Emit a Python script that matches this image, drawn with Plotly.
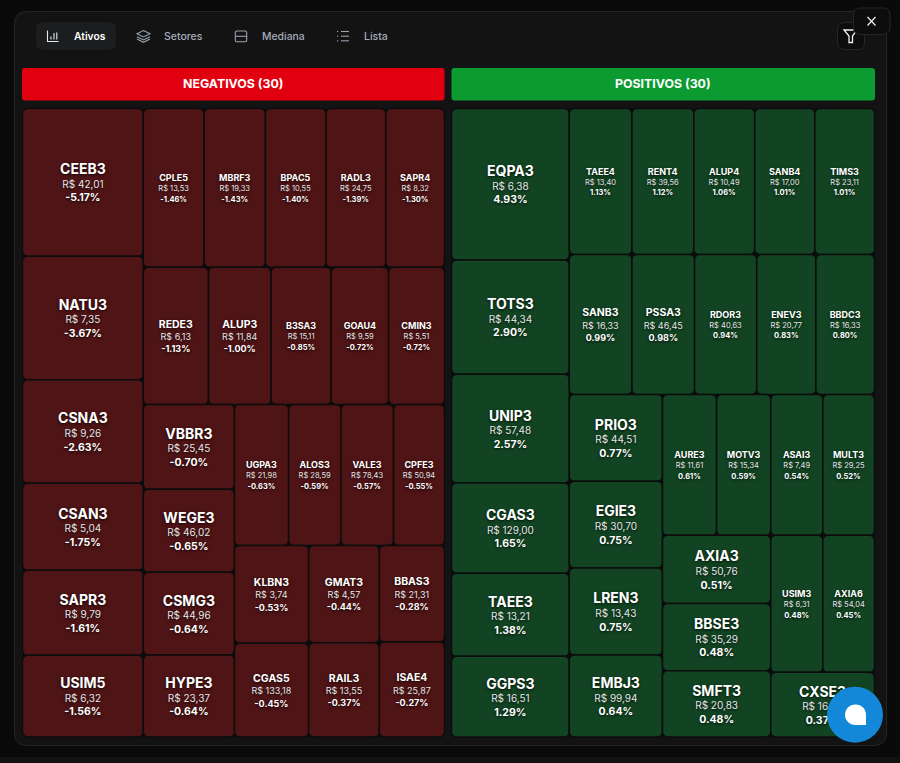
import plotly.graph_objects as go

W, H = 900, 763
FONT = "Inter, Liberation Sans, sans-serif"

# Losers
neg_tickers = ["CEEB3", "NATU3", "CSNA3", "CSAN3", "SAPR3", "USIM5",
               "CPLE5", "MBRF3", "BPAC5", "RADL3", "SAPR4",
               "REDE3", "ALUP3", "B3SA3", "GOAU4", "CMIN3",
               "VBBR3", "WEGE3", "CSMG3", "HYPE3",
               "UGPA3", "ALOS3", "VALE3", "CPFE3",
               "KLBN3", "CGAS5", "GMAT3", "RAIL3", "BBAS3", "ISAE4"]
neg_prices = [42.01, 7.35, 9.26, 5.04, 9.79, 6.32,
              13.53, 19.33, 10.55, 24.75, 8.32,
              6.13, 11.84, 15.11, 9.59, 5.51,
              25.45, 46.02, 44.96, 23.37,
              21.98, 28.59, 78.43, 50.94,
              3.74, 133.18, 4.57, 13.55, 21.31, 25.87]
neg_changes = [-5.17, -3.67, -2.63, -1.75, -1.61, -1.56,
               -1.46, -1.43, -1.40, -1.39, -1.30,
               -1.13, -1.00, -0.85, -0.72, -0.72,
               -0.70, -0.65, -0.64, -0.64,
               -0.63, -0.59, -0.57, -0.55,
               -0.53, -0.45, -0.44, -0.37, -0.28, -0.27]
neg_weights = [177.6, 148.6, 124.5, 104.8, 102.4, 98.2,
               96.4, 96.7, 95.7, 94.8, 92.7,
               89.1, 85.6, 82.2, 78.4, 76.4,
               77.1, 75.3, 75.3, 74.4,
               76.0, 73.4, 73.9, 71.5,
               72.4, 69.2, 68.6, 66.3, 62.7, 61.6]

# Gainers
pos_tickers = ["EQPA3", "TOTS3", "UNIP3", "CGAS3", "TAEE3", "GGPS3",
               "TAEE4", "RENT4", "ALUP4", "SANB4", "TIMS3",
               "SANB3", "PSSA3", "RDOR3", "ENEV3", "BBDC3",
               "PRIO3", "EGIE3", "LREN3", "EMBJ3",
               "AURE3", "MOTV3", "ASAI3", "MULT3",
               "AXIA3", "BBSE3", "SMFT3", "USIM3", "AXIA6", "CXSE3"]
pos_prices = [6.38, 44.34, 57.48, 129.00, 13.21, 16.51,
              13.40, 39.56, 10.49, 17.00, 23.11,
              16.33, 46.45, 40.63, 20.77, 16.33,
              44.51, 30.70, 13.43, 99.94,
              11.61, 15.34, 7.49, 29.25,
              50.76, 35.29, 20.83, 6.31, 54.04, 16.90]
pos_changes = [4.93, 2.90, 2.57, 1.65, 1.38, 1.29,
               1.13, 1.12, 1.06, 1.01, 1.01,
               0.99, 0.98, 0.94, 0.83, 0.80,
               0.77, 0.75, 0.75, 0.64,
               0.61, 0.59, 0.54, 0.52,
               0.51, 0.48, 0.48, 0.48, 0.45, 0.37]
pos_weights = [177.7, 134.1, 127.7, 105.8, 97.5, 94.6,
               91.1, 90.1, 88.5, 87.5, 86.8,
               87.4, 87.4, 86.7, 82.5, 81.8,
               80.5, 80.4, 80.9, 76.1,
               75.9, 75.9, 73.1, 72.4,
               73.5, 72.4, 71.5, 71.1, 70.5, 66.8]

# Nesting of the tiles; each level alternates between columns and rows.
neg_tree = [neg_tickers[0:6],
            [neg_tickers[6:11], neg_tickers[11:16],
             [neg_tickers[16:20],
              [neg_tickers[20:24],
               [neg_tickers[24:26], neg_tickers[26:28], neg_tickers[28:30]]]]]]
pos_tree = [pos_tickers[0:6],
            [pos_tickers[6:11], pos_tickers[11:16],
             [pos_tickers[16:20],
              [pos_tickers[20:24],
               [pos_tickers[24:27], [pos_tickers[27:29], [pos_tickers[29]]]]]]]]

# Type sizes by tile group: ticker, price, change
TIER_SIZES = {"large": (14, 10, 10.5), "medium": (10.5, 9, 9), "small": (9, 7.5, 7.5)}
LARGE = set(neg_tickers[:6] + neg_tickers[16:20] + pos_tickers[:6] + pos_tickers[16:20]
            + pos_tickers[24:27] + ["CXSE3"])
MEDIUM = {"REDE3", "ALUP3", "KLBN3", "GMAT3", "BBAS3", "CGAS5", "RAIL3", "ISAE4",
          "SANB3", "PSSA3"}


def tier(ticker):
    return "large" if ticker in LARGE else "medium" if ticker in MEDIUM else "small"


def tile_label(ticker, price, change):
    t, p, c = TIER_SIZES[tier(ticker)]
    price_txt = f"R$ {price:.2f}".replace(".", ",")
    return (f'<span style="font-size:{t}px"><b>{ticker}</b></span><br>'
            f'<span style="font-size:{p}px;fill:#e6e6e6">{price_txt}</span><br>'
            f'<span style="font-size:{c}px"><b>{change:.2f}%</b></span>')


def treemap(tree, tickers, prices, changes, weights, color, xpix):
    ids, parents, values, texts, colors, lines, sizes = [], [], [], [], [], [], []
    lookup = {t: (p, c, w) for t, p, c, w in zip(tickers, prices, changes, weights)}

    def walk(node, parent, path):
        if isinstance(node, str):
            p, c, w = lookup[node]
            ids.append(node); parents.append(parent); values.append(w)
            texts.append(tile_label(node, p, c)); colors.append(color); lines.append(1.5)
            sizes.append(TIER_SIZES[tier(node)][1] + 0.5)
        else:
            ids.append(path); parents.append(parent); values.append(0)
            texts.append(""); lines.append(0); sizes.append(10)
            colors.append("#0c0c0c" if parent == "" else "rgba(0,0,0,0)")
            for i, child in enumerate(node):
                walk(child, path, f"{path}.{i}")

    walk(tree, "", "root")
    return go.Treemap(
        ids=ids, labels=ids, parents=parents, values=values, text=texts,
        branchvalues="remainder", sort=False, textinfo="text",
        textposition="middle center",
        textfont=dict(family=FONT, color="#ffffff", size=sizes,
                      shadow="0px 1px 3px rgba(0,0,0,0.8)"),
        tiling=dict(packing="slice-dice", pad=0),
        marker=dict(colors=colors, depthfade=False, cornerradius=5,
                    pad=dict(t=0, l=0, r=0, b=0),
                    line=dict(color="#0c0c0c", width=lines)),
        pathbar=dict(visible=False), hoverinfo="skip",
        domain=dict(x=[xpix[0] / W, xpix[1] / W], y=[1 - 737 / H, 1 - 108.5 / H]),
    )


fig = go.Figure([
    treemap(neg_tree, neg_tickers, neg_prices, neg_changes, neg_weights, "#4f1416", (22.5, 444.5)),
    treemap(pos_tree, pos_tickers, pos_prices, pos_changes, pos_weights, "#124423", (451.5, 874.5)),
])


def px(x):
    return x / W


def py(y):
    return 1 - y / H


def path_of(points, close=False):
    d = " ".join(("M" if i == 0 else "L") + f"{px(x):.5f},{py(y):.5f}" for i, (x, y) in enumerate(points))
    return d + (" Z" if close else "")


def rrect(x0, y0, x1, y1, r):
    P = lambda x, y: f"{px(x):.5f},{py(y):.5f}"
    return (f"M{P(x0 + r, y0)} L{P(x1 - r, y0)} Q{P(x1, y0)} {P(x1, y0 + r)} "
            f"L{P(x1, y1 - r)} Q{P(x1, y1)} {P(x1 - r, y1)} L{P(x0 + r, y1)} "
            f"Q{P(x0, y1)} {P(x0, y1 - r)} L{P(x0, y0 + r)} Q{P(x0, y0)} {P(x0 + r, y0)} Z")


shapes = []


def add_box(x0, y0, x1, y1, r, fill, line=None, layer="below"):
    shapes.append(dict(type="path", xref="paper", yref="paper", path=rrect(x0, y0, x1, y1, r),
                       fillcolor=fill, line=dict(color=line or fill, width=1 if line else 0),
                       layer=layer))


def add_stroke(points, color, width=1.1, layer="below", close=False):
    shapes.append(dict(type="path", xref="paper", yref="paper", path=path_of(points, close),
                       line=dict(color=color, width=width), layer=layer))


# Page and modal frame
add_box(-2, 757, 902, 765, 0, "#121212")
add_box(14.5, 11.5, 886.5, 745.5, 13, "#131313", "#262626")
add_box(36, 22, 116, 50, 7, "#1c1d1f")
add_box(22, 68, 444.5, 100.5, 3, "#e0000f")
add_box(451.5, 68, 875, 100.5, 3, "#0b9b30")

# Tab icons
ICON_ON, ICON_OFF = "#e8e8e8", "#98a2b0"
add_stroke([(47.5, 30.5), (47.5, 41.5), (58.5, 41.5)], ICON_ON)
for bx, by in [(51, 36.5), (54, 33), (56.8, 32.5)]:
    add_stroke([(bx, by), (bx, 39.5)], ICON_ON)
add_stroke([(143.5, 30.5), (150, 33.7), (143.5, 37), (137, 33.7)], ICON_OFF, close=True)
add_stroke([(137, 36.7), (143.5, 40), (150, 36.7)], ICON_OFF)
add_stroke([(137, 39), (143.5, 42.3), (150, 39)], ICON_OFF)
shapes.append(dict(type="path", xref="paper", yref="paper", path=rrect(235.3, 31, 246.7, 41.7, 1.5),
                   line=dict(color=ICON_OFF, width=1.1), layer="below"))
add_stroke([(235.3, 36.3), (246.7, 36.3)], ICON_OFF)
for ly in (31.5, 36.2, 40.8):
    add_stroke([(341, ly), (349, ly)], ICON_OFF)
    add_stroke([(337, ly), (338.2, ly)], ICON_OFF)

# Filter and close buttons
add_box(837.5, 22.5, 864.5, 49.5, 7, "#0d0d0d", "#262626", layer="above")
add_stroke([(844, 30), (857, 30), (852.5, 36), (852.5, 42.5), (849, 42.5), (849, 36)],
           "#f0f0f0", 1.3, "above", True)
add_box(853.5, 8, 890, 34.5, 7, "#0d0d0d", "#262626", layer="above")
add_stroke([(867.5, 17), (875.5, 25.5)], "#f0f0f0", 1.2, "above")
add_stroke([(875.5, 17), (867.5, 25.5)], "#f0f0f0", 1.2, "above")

# Chat launcher
shapes.append(dict(type="circle", xref="paper", yref="paper", x0=px(827), x1=px(883),
                   y0=py(742.7), y1=py(686.7), fillcolor="#1488d8", line=dict(width=0), layer="above"))
P = lambda x, y: f"{px(x):.5f},{py(y):.5f}"
shapes.append(dict(type="path", xref="paper", yref="paper", layer="above",
                   path=(f"M{P(855.5, 704.5)} C{P(861.5, 704.5)} {P(866, 709)} {P(866, 715)} "
                         f"L{P(866, 725)} L{P(855.5, 725)} C{P(849.5, 725)} {P(845, 720.5)} {P(845, 715)} "
                         f"C{P(845, 709)} {P(849.5, 704.5)} {P(855.5, 704.5)} Z"),
                   fillcolor="#ffffff", line=dict(width=0)))


def note(x, y, text, size, color, anchor="left", weight=500):
    return dict(x=px(x), y=py(y), xref="paper", yref="paper", text=text, showarrow=False,
                xanchor=anchor, yanchor="middle", align="center",
                font=dict(family=FONT, size=size, color=color, weight=weight))


annotations = [
    note(71.7, 36.3, "Ativos", 10.3, "#ffffff", weight=600),
    note(161.7, 36.3, "Setores", 10.5, "#a3adba"),
    note(259.7, 36.3, "Mediana", 10.4, "#a3adba"),
    note(361.7, 36.3, "Lista", 10.5, "#a3adba"),
    note(233.5, 83.5, "NEGATIVOS (30)", 12.35, "#ffffff", "center", 700),
    note(663.2, 83.5, "POSITIVOS (30)", 12.35, "#ffffff", "center", 700),
]

fig.update_layout(
    width=W, height=H, margin=dict(l=0, r=0, t=0, b=0),
    paper_bgcolor="#0a0a0a", plot_bgcolor="#0a0a0a",
    shapes=shapes, annotations=annotations, showlegend=False,
)
fig.write_html("out.html", config=dict(displayModeBar=False))
